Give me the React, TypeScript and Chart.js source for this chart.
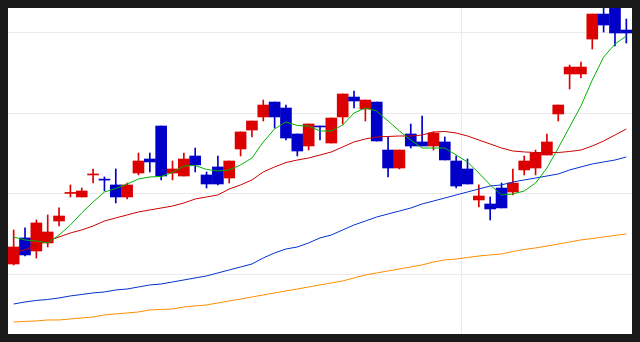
import { useEffect, useRef } from "react";
import { Chart, registerables } from "chart.js";

Chart.register(...registerables);

// 55 trading sessions; a new month begins at session index 40
const days = Array.from({ length: 55 }, (_, i) => `D${i + 1}`);
const monthStartIndex = 40;

const opens = [101.30, 104.53, 102.91, 103.91, 106.63, 110.05, 109.61, 112.34, 111.78, 111.10,
  109.61, 112.58, 114.32, 118.41, 112.58, 112.21, 114.69, 112.34, 113.33, 111.96,
  115.56, 117.91, 119.53, 121.38, 120.64, 117.42, 115.93, 118.41, 116.30, 119.53,
  122.00, 120.52, 121.38, 115.43, 113.20, 117.42, 116.43, 115.93, 116.43, 114.07,
  113.08, 109.24, 108.74, 110.72, 110.23, 112.96, 113.20, 114.81, 119.90, 124.86,
  124.86, 129.19, 132.29, 133.30, 130.31];
const highs = [105.52, 105.77, 106.76, 107.38, 108.25, 111.10, 110.72, 113.08, 112.09, 113.08,
  111.34, 115.06, 115.06, 118.41, 114.07, 115.06, 115.68, 112.71, 114.69, 114.07,
  117.67, 119.03, 121.63, 121.38, 121.01, 117.42, 118.66, 118.41, 119.40, 122.38,
  122.75, 121.63, 121.38, 117.05, 115.43, 118.66, 119.65, 117.67, 117.05, 114.69,
  114.32, 111.10, 109.61, 111.34, 113.08, 114.69, 115.43, 117.42, 121.01, 125.97,
  126.34, 132.29, 133.40, 133.60, 131.67];
const lows = [101.17, 102.29, 102.04, 103.41, 106.01, 109.61, 109.61, 111.34, 110.35, 108.87,
  109.36, 112.34, 112.71, 111.72, 111.72, 112.21, 112.71, 110.72, 111.10, 111.34,
  114.69, 117.05, 119.03, 118.16, 116.67, 114.69, 115.43, 116.67, 116.30, 118.66,
  120.64, 119.03, 116.55, 112.09, 113.08, 115.68, 115.93, 115.43, 114.20, 110.72,
  111.22, 108.37, 106.76, 108.25, 109.86, 112.34, 112.34, 114.81, 119.03, 123.00,
  124.36, 127.95, 130.06, 128.33, 128.70];
const closes = [103.41, 102.42, 106.39, 105.27, 107.25, 110.05, 110.35, 112.34, 111.70, 109.61,
  111.10, 114.07, 113.95, 112.21, 113.08, 114.32, 113.58, 111.22, 111.22, 114.07,
  117.67, 119.03, 121.01, 119.53, 116.92, 115.31, 118.66, 118.29, 119.40, 122.38,
  121.51, 121.63, 116.55, 113.20, 115.43, 115.93, 115.93, 117.54, 114.20, 110.97,
  111.22, 109.73, 108.12, 108.25, 111.34, 114.07, 115.06, 116.43, 121.01, 125.72,
  125.72, 132.29, 130.93, 129.94, 129.94];

const maShort = [104.65, 104.28, 104.15, 103.91, 104.90, 106.14, 107.63, 108.99, 110.23, 110.66,
  111.22, 111.84, 112.09, 112.15, 112.65, 113.45, 113.51, 113.02, 112.83, 112.96,
  113.58, 114.44, 116.43, 118.04, 118.91, 118.47, 118.41, 117.79, 117.79, 118.53,
  120.02, 120.64, 120.27, 119.03, 117.79, 116.67, 115.68, 115.68, 115.68, 114.81,
  113.95, 112.58, 111.10, 109.86, 109.98, 110.35, 111.34, 113.20, 115.68, 118.29,
  120.89, 124.11, 126.96, 128.57, 129.57];
const maMid = [102.79, 103.04, 103.66, 104.15, 104.65, 105.15, 105.52, 106.01, 106.63, 107.01,
  107.38, 107.75, 108.00, 108.24, 108.49, 108.86, 109.36, 109.61, 109.86, 110.60,
  111.10, 111.72, 112.71, 113.33, 113.88, 114.19, 114.44, 114.81, 115.19, 115.81,
  116.43, 116.80, 117.05, 117.11, 117.17, 117.17, 117.29, 117.67, 117.73, 117.54,
  117.17, 116.67, 116.18, 115.68, 115.31, 115.19, 115.12, 115.12, 115.12, 115.25,
  115.43, 115.93, 116.55, 117.29, 118.04];
const maLong = [96.34, 96.59, 96.78, 96.90, 97.09, 97.34, 97.52, 97.71, 97.83, 98.08,
  98.20, 98.45, 98.70, 98.82, 99.07, 99.32, 99.57, 99.82, 100.19, 100.56,
  100.93, 101.30, 102.05, 102.67, 103.16, 103.41, 103.91, 104.53, 104.90, 105.52,
  106.14, 106.63, 107.13, 107.50, 107.87, 108.24, 108.74, 109.11, 109.48, 109.86,
  110.23, 110.60, 110.97, 111.10, 111.47, 111.72, 111.96, 112.21, 112.46, 112.96,
  113.33, 113.70, 113.95, 114.19, 114.57];
const maVeryLong = [94.11, 94.18, 94.24, 94.36, 94.36, 94.49, 94.61, 94.73, 94.98, 95.11,
  95.23, 95.35, 95.60, 95.66, 95.72, 95.97, 96.10, 96.22, 96.47, 96.72,
  96.96, 97.21, 97.46, 97.71, 97.96, 98.20, 98.45, 98.70, 98.95, 99.20,
  99.57, 99.94, 100.19, 100.44, 100.68, 100.93, 101.18, 101.55, 101.80, 101.92,
  102.11, 102.29, 102.42, 102.54, 102.85, 103.10, 103.29, 103.53, 103.78, 104.03,
  104.28, 104.46, 104.65, 104.84, 105.02];

const gridValues = [100, 110, 120, 130];
const yMin = 92.62;
const yMax = 133.04;

const UP = "#dd0000";
const DOWN = "#0000c8";
const GRID = "#ebebeb";

export default function App() {
  const ref = useRef<HTMLCanvasElement>(null);

  useEffect(() => {
    if (!ref.current) return;
    const isUp = (i: number) => closes[i] >= opens[i];
    const candleColor = (ctx: any) => (isUp(ctx.dataIndex) ? UP : DOWN);
    const line = (data: number[], color: string) => ({
      type: "line" as const,
      data,
      borderColor: color,
      borderWidth: 1,
      pointRadius: 0,
      tension: 0,
      fill: false,
      order: 0,
    });

    const chart = new Chart(ref.current, {
      type: "bar",
      data: {
        labels: days,
        datasets: [
          line(maShort, "#00b400"),
          line(maMid, "#cc0000"),
          line(maLong, "#0033cc"),
          line(maVeryLong, "#ff8c00"),
          {
            type: "bar",
            data: opens.map((o, i) => [o, closes[i]]),
            backgroundColor: candleColor,
            barThickness: 11,
            minBarLength: 1,
            grouped: false,
            order: 1,
          },
          {
            type: "bar",
            data: lows.map((l, i) => [l, highs[i]]),
            backgroundColor: candleColor,
            barThickness: 1,
            grouped: false,
            order: 2,
          },
        ] as any,
      },
      options: {
        animation: false,
        responsive: false,
        layout: { padding: 0 },
        plugins: { legend: { display: false }, tooltip: { enabled: false } },
        scales: {
          x: {
            offset: true,
            grid: {
              offset: true,
              drawTicks: false,
              color: (ctx: any) => (ctx.index === monthStartIndex ? GRID : "rgba(0,0,0,0)"),
            },
            ticks: { display: false },
            border: { display: false },
          },
          y: {
            min: yMin,
            max: yMax,
            afterBuildTicks: (axis: any) => {
              axis.ticks = gridValues.map((v) => ({ value: v }));
            },
            grid: { color: GRID, drawTicks: false },
            ticks: { display: false },
            border: { display: false },
          },
        },
      } as any,
    });
    return () => chart.destroy();
  }, []);

  return (
    <div
      style={{
        position: "fixed",
        left: 0,
        top: 0,
        width: 640,
        height: 342,
        background: "#1a1a1a",
      }}
    >
      <canvas
        ref={ref}
        width={624}
        height={326}
        style={{ position: "absolute", left: 8, top: 8, background: "#ffffff" }}
      />
    </div>
  );
}
